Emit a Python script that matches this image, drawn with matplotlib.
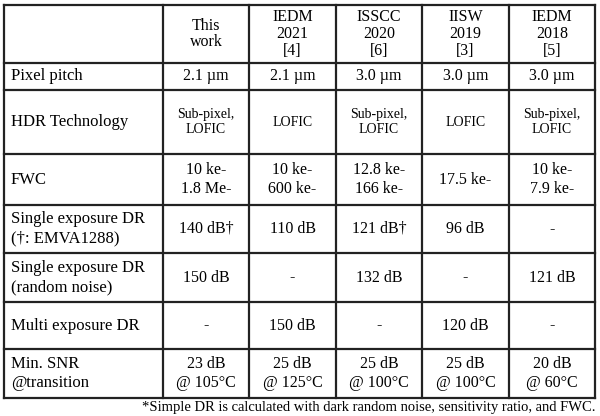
import matplotlib
matplotlib.use("Agg")
import matplotlib.pyplot as plt

columns = ["", "This\nwork", "IEDM\n2021\n[4]", "ISSCC\n2020\n[6]", "IISW\n2019\n[3]", "IEDM\n2018\n[5]"]
row_labels = ["Pixel pitch", "HDR Technology", "FWC", "Single exposure DR\n(†: EMVA1288)",
              "Single exposure DR\n(random noise)", "Multi exposure DR", "Min. SNR\n@transition"]
cells = [
    ["2.1 µm", "2.1 µm", "3.0 µm", "3.0 µm", "3.0 µm"],
    ["Sub-pixel,\nLOFIC", "LOFIC", "Sub-pixel,\nLOFIC", "LOFIC", "Sub-pixel,\nLOFIC"],
    ["10 ke-\n1.8 Me-", "10 ke-\n600 ke-", "12.8 ke-\n166 ke-", "17.5 ke-", "10 ke-\n7.9 ke-"],
    ["140 dB†", "110 dB", "121 dB†", "96 dB", "-"],
    ["150 dB", "-", "132 dB", "-", "121 dB"],
    ["-", "150 dB", "-", "120 dB", "-"],
    ["23 dB\n@ 105°C", "25 dB\n@ 125°C", "25 dB\n@ 100°C", "25 dB\n@ 100°C", "20 dB\n@ 60°C"],
]
footnote = "*Simple DR is calculated with dark random noise, sensitivity ratio, and FWC."

xs = [4, 163, 249, 336, 422, 509, 595]
ys = [5, 63, 90, 154, 205, 253, 302, 349, 398]

fig = plt.figure(figsize=(6, 4.16), dpi=100)
ax = fig.add_axes([0, 0, 1, 1])
ax.set_xlim(0, 600); ax.set_ylim(416, 0); ax.axis("off")
font = "Liberation Serif"
for x in xs:
    ax.plot([x, x], [ys[0], ys[-1]], color="#222222", lw=1.6)
for y in ys:
    ax.plot([xs[0], xs[-1]], [y, y], color="#222222", lw=1.6)

def cx(i): return (xs[i] + xs[i + 1]) / 2
def cy(j): return (ys[j] + ys[j + 1]) / 2

for i, c in enumerate(columns):
    ax.text(cx(i), cy(0), c, ha="center", va="center", fontsize=11.5, family=font, linespacing=1.05)
for j, r in enumerate(row_labels):
    ax.text(xs[0] + 7, cy(j + 1), r, ha="left", va="center", fontsize=12, family=font, linespacing=1.3)
    for i, v in enumerate(cells[j]):
        fs = 10 if "Sub-pixel" in v or v == "LOFIC" else 11.5
        ax.text(cx(i + 1), cy(j + 1), v, ha="center", va="center", fontsize=fs, family=font, linespacing=1.25)
ax.text(xs[-1], 407, footnote, ha="right", va="center", fontsize=10.5, family=font)
fig.savefig("out.png", dpi=100)
